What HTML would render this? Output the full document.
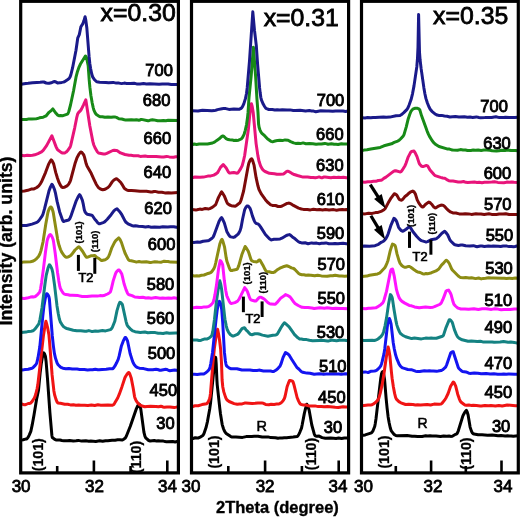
<!DOCTYPE html>
<html><head><meta charset="utf-8"><style>
html,body{margin:0;padding:0;background:#fff;overflow:hidden;}
svg{display:block;}
text{font-family:"Liberation Sans",Arial,sans-serif;}
</style></head><body>
<svg width="520" height="517" viewBox="0 0 520 517">
<defs><clipPath id="cp0"><rect x="20.7" y="1.3" width="157.7" height="471.6"/></clipPath><clipPath id="cp1"><rect x="191.5" y="1.3" width="157.1" height="471.6"/></clipPath><clipPath id="cp2"><rect x="361.5" y="1.3" width="156.8" height="471.6"/></clipPath></defs>
<g fill="none" stroke-width="3.0" stroke-linejoin="round" stroke-linecap="round">
<g clip-path="url(#cp0)">
<polyline points="21.0,440.0 23.2,439.7 25.5,439.1 26.5,439.0 27.2,438.5 28.2,437.1 29.2,435.1 30.8,431.3 31.2,429.6 32.2,424.9 34.0,415.0 36.8,398.1 38.5,390.2 40.2,372.2 41.2,364.1 42.2,358.1 43.6,352.9 43.9,353.0 44.4,353.6 45.4,356.2 46.1,361.5 47.6,380.1 49.9,412.6 51.9,435.5 52.3,437.5 54.1,438.9 55.4,439.7 56.4,440.1 59.9,440.0 61.9,440.5 63.9,440.8 67.3,440.7 69.6,440.4 73.3,440.9 76.1,440.7 78.3,440.4 81.6,441.1 85.8,440.8 88.8,441.3 90.8,441.1 95.8,441.4 99.6,440.8 102.6,441.3 105.6,440.7 107.8,440.7 112.1,440.2 115.1,440.2 117.6,439.8 119.8,439.7 122.1,440.0 122.8,439.8 123.8,439.2 125.3,438.0 126.3,436.3 130.3,426.3 136.1,409.4 137.8,405.6 138.6,404.6 139.3,404.1 140.2,406.2 140.9,409.9 143.9,432.1 144.9,436.2 145.7,437.9 148.7,440.5 150.2,441.0 154.2,440.5 156.4,440.9 158.2,440.7 160.2,441.0 162.7,440.9 165.2,441.6 166.4,441.8 172.7,441.5 175.2,442.0 178.0,441.3" stroke="#000000"/>
<polyline points="21.0,404.0 22.2,404.1 24.2,404.7 25.0,404.7 26.0,404.5 28.2,403.5 29.8,403.4 30.5,403.1 32.0,401.6 34.0,398.5 34.8,397.0 35.8,394.0 37.0,389.0 37.8,384.9 43.5,335.2 44.8,326.9 45.9,321.3 46.6,323.6 47.6,327.5 48.9,334.7 49.6,342.5 52.1,374.9 53.9,391.0 54.6,394.8 55.9,399.1 56.9,401.6 57.4,402.4 57.9,402.9 60.4,403.3 64.7,404.2 67.7,404.2 70.4,404.9 73.4,404.7 75.9,405.2 78.7,404.9 80.7,405.2 84.7,405.2 87.9,405.5 91.4,405.0 94.7,405.5 97.9,404.8 100.9,405.2 107.9,405.0 112.4,405.2 112.9,405.1 113.7,404.6 114.4,403.6 117.7,398.0 119.2,394.4 121.9,386.9 124.9,377.8 125.7,376.3 126.7,374.7 127.7,373.3 128.5,372.5 129.0,372.7 129.8,373.9 131.2,377.9 133.2,388.3 134.5,396.3 135.0,398.1 135.8,399.9 136.8,401.7 138.2,403.5 139.5,404.7 142.0,406.0 144.8,406.8 147.0,406.5 150.5,406.3 156.0,406.4 158.5,406.8 161.0,406.2 161.8,406.4 163.2,407.1 164.2,407.3 167.0,407.1 170.0,407.1 174.2,407.6 176.5,407.1 178.0,407.1" stroke="#f01414"/>
<polyline points="21.0,369.7 23.2,369.9 25.2,369.5 28.2,369.2 32.0,368.2 33.2,367.4 35.2,365.4 36.2,364.1 36.8,362.9 38.0,357.7 39.8,346.8 42.8,316.1 44.0,305.4 45.5,297.3 46.6,293.7 47.4,294.1 48.4,295.6 48.9,296.8 49.4,299.4 52.3,335.9 53.4,346.1 54.4,353.4 55.6,358.6 57.1,363.0 58.1,364.7 59.9,366.5 60.9,367.3 62.9,368.2 65.8,368.7 68.8,368.5 72.3,369.1 77.1,369.1 79.6,369.4 84.3,369.5 87.6,369.9 90.1,369.7 92.6,369.7 95.3,369.2 97.8,369.7 99.1,369.7 102.1,369.4 106.1,369.3 109.6,368.8 112.4,368.8 112.8,368.6 113.8,367.6 115.1,365.7 116.6,362.8 118.2,359.3 119.1,356.2 121.3,346.3 123.3,340.9 125.1,337.4 125.6,337.5 126.3,338.4 127.6,341.2 130.1,353.5 132.6,361.4 133.6,363.6 134.3,364.8 135.6,366.3 136.6,367.1 137.8,367.7 139.3,368.2 143.6,368.6 148.3,369.8 152.8,369.8 156.1,369.3 157.6,369.5 159.8,370.2 160.8,370.3 165.8,369.3 166.6,369.4 168.8,370.5 169.8,370.7 174.6,370.1 178.0,370.6" stroke="#1414f0"/>
<polyline points="21.0,332.5 26.0,332.1 28.5,331.4 31.2,331.2 33.0,330.8 34.0,330.1 35.2,328.8 38.8,323.8 39.2,322.4 40.0,319.3 42.0,307.7 45.0,283.8 46.2,275.4 48.0,268.1 48.8,265.9 49.3,264.8 49.8,265.0 50.3,265.6 51.3,267.6 52.0,269.3 52.8,272.6 54.5,284.6 57.0,305.9 58.3,313.7 59.3,318.8 60.3,321.9 61.8,324.3 63.5,326.6 65.3,327.9 66.8,328.5 73.3,330.2 76.8,330.8 80.8,330.7 85.0,331.2 86.3,331.2 88.8,330.6 91.5,331.4 92.5,331.5 95.3,331.1 98.0,331.2 102.5,330.6 105.5,330.9 110.5,329.6 111.5,328.7 112.3,327.5 114.8,321.3 117.0,310.6 118.8,304.6 119.8,302.3 120.0,302.3 120.8,302.6 121.5,303.4 122.1,304.1 122.5,305.1 126.0,321.3 126.8,324.1 127.3,325.4 128.3,326.8 130.3,328.9 131.6,330.1 132.8,330.9 135.1,331.7 137.1,332.1 140.3,332.4 144.8,332.0 147.8,332.7 151.1,332.4 155.3,332.6 158.3,333.3 160.3,333.3 163.1,333.5 166.6,332.8 169.3,333.3 175.6,332.9 178.0,333.0" stroke="#148282"/>
<polyline points="21.0,298.1 23.5,298.5 24.5,298.5 27.0,298.1 30.5,297.1 32.5,296.8 34.0,296.9 34.8,296.7 35.8,296.1 38.0,294.1 39.0,293.0 39.8,291.8 40.5,289.0 41.5,282.9 43.5,268.4 45.5,251.8 47.0,241.5 47.5,239.3 48.8,236.2 49.5,235.0 49.8,234.7 50.2,234.6 51.0,235.1 52.0,236.7 53.0,239.2 53.5,241.4 55.2,253.3 57.5,272.3 58.8,280.9 59.8,286.4 60.4,288.5 61.8,291.0 63.2,293.1 64.5,294.1 66.0,294.6 68.0,294.8 70.0,295.3 72.2,295.2 78.2,295.6 82.2,296.5 84.8,296.4 87.0,296.6 92.0,295.9 95.5,295.9 97.5,296.1 100.0,295.6 102.5,295.8 104.8,295.2 107.5,294.0 109.2,293.0 110.1,292.2 110.5,291.6 111.2,289.3 113.2,280.9 115.5,273.8 116.2,272.2 116.8,271.5 117.8,270.4 118.8,269.9 119.3,270.1 120.0,271.0 121.8,274.1 122.5,276.8 124.0,283.5 126.0,289.6 127.5,293.2 128.3,294.3 129.1,294.8 132.1,295.6 134.8,297.0 137.6,297.2 139.6,297.5 142.8,297.2 145.8,298.0 148.3,297.7 151.3,298.2 155.6,297.6 160.1,298.2 162.6,298.0 165.3,298.3 168.6,298.1 171.6,298.2 174.1,297.8 175.1,297.9 178.0,298.8" stroke="#ff14ff"/>
<polyline points="21.0,262.6 24.0,261.9 30.5,261.7 32.5,261.3 34.8,260.2 36.0,259.2 38.5,256.5 39.2,255.3 40.0,253.6 41.0,250.6 43.1,241.6 45.8,224.1 47.8,213.1 48.2,211.3 49.2,208.9 50.0,207.6 50.7,206.9 51.2,207.1 52.0,208.3 53.2,212.3 57.5,238.5 58.1,241.7 59.2,245.8 60.5,249.5 61.7,252.2 64.0,255.5 65.0,256.5 65.7,257.0 66.7,257.3 67.7,257.1 68.7,256.7 71.0,255.2 72.0,254.1 75.0,250.0 77.7,247.6 78.9,246.8 80.2,248.1 82.7,251.5 85.4,256.1 86.4,257.2 86.9,257.3 87.7,257.1 90.9,255.8 92.4,255.7 94.7,255.5 95.4,256.0 96.9,257.5 98.7,258.4 101.2,260.4 101.9,260.5 105.2,259.7 106.7,258.8 107.9,257.7 108.4,257.0 109.4,254.7 111.9,247.6 114.4,242.6 115.7,240.7 118.8,237.9 120.0,239.4 121.5,242.6 124.3,251.1 125.0,253.0 127.8,258.7 128.6,259.8 129.3,260.4 131.3,260.7 135.8,261.9 137.1,261.9 139.1,261.5 141.6,262.1 146.3,261.7 150.1,262.5 151.3,262.4 154.8,261.7 158.1,262.1 161.3,262.2 163.6,261.3 164.3,261.2 166.1,261.5 168.1,261.5 170.6,262.1 178.0,262.2" stroke="#8c8c14"/>
<polyline points="21.0,225.6 26.5,225.5 32.0,224.1 36.2,222.7 37.8,221.8 39.0,220.5 42.2,215.8 43.0,214.1 44.5,208.9 49.0,190.9 50.5,186.9 51.9,184.3 52.4,184.8 53.1,186.1 54.6,189.8 55.4,192.8 57.1,201.4 59.6,211.7 62.4,219.8 63.1,221.1 63.6,221.5 65.9,220.7 68.7,220.0 69.7,218.8 71.2,215.3 76.2,200.8 78.2,196.7 79.6,194.7 80.1,195.3 80.8,196.5 82.4,200.4 83.1,203.3 84.3,209.8 85.1,212.1 86.3,213.5 87.3,214.2 91.8,215.2 92.3,215.5 94.8,219.3 96.1,220.6 97.8,222.9 98.8,223.7 99.6,223.8 103.1,222.6 104.1,222.2 105.3,221.3 107.3,219.3 111.1,214.7 114.1,210.6 115.1,209.8 117.0,208.7 119.5,211.4 121.8,214.7 125.0,220.9 126.0,222.3 128.0,223.8 132.2,225.7 133.0,225.9 135.5,225.7 138.5,226.2 142.5,226.5 145.5,227.0 148.8,226.6 151.2,227.3 154.5,226.9 159.8,227.3 162.8,226.8 167.8,227.1 170.5,226.7 173.8,226.8 176.5,227.2 178.0,227.2" stroke="#1a1a8a"/>
<polyline points="21.0,191.2 24.5,190.9 27.8,190.3 31.2,189.1 34.0,188.9 36.8,187.5 38.8,185.8 40.5,183.6 41.5,181.8 45.5,172.6 48.5,164.4 50.0,161.6 51.2,159.9 51.7,160.3 52.2,160.9 53.7,164.0 55.7,172.4 57.5,178.3 59.0,182.4 60.7,185.7 61.7,187.0 62.2,187.4 62.7,187.5 64.2,187.3 67.0,185.9 68.0,185.0 69.0,183.6 70.0,181.8 70.5,180.5 75.2,162.9 77.0,157.7 79.0,154.1 80.5,152.1 81.0,152.0 81.5,152.1 82.2,152.8 83.8,155.0 84.5,157.1 86.2,163.8 87.0,166.0 91.2,173.3 93.8,179.1 96.2,184.2 98.2,187.3 99.8,188.6 101.0,189.3 102.8,189.8 104.0,189.6 105.5,189.0 108.0,187.5 109.5,186.0 112.0,182.1 113.0,180.8 114.5,179.6 116.5,178.7 119.0,180.7 120.8,182.5 122.0,184.3 124.0,187.8 124.8,188.7 126.5,189.8 128.0,190.4 129.5,190.6 131.5,190.5 135.0,190.7 140.0,191.3 146.5,191.3 150.8,192.0 152.0,192.0 154.0,191.5 155.0,191.4 158.5,192.2 161.8,192.3 164.8,192.9 168.2,192.7 171.2,193.1 178.0,192.5" stroke="#7c0a0a"/>
<polyline points="21.0,155.3 24.2,155.7 27.2,155.2 30.2,155.4 32.5,155.3 34.8,154.8 38.0,153.6 41.5,151.9 43.2,150.3 46.6,145.6 51.9,135.7 56.1,146.9 56.9,148.6 57.6,149.8 61.1,152.4 62.1,152.9 63.1,153.0 64.4,153.0 65.4,152.6 66.2,152.1 67.7,150.5 69.4,148.2 70.2,146.9 70.7,145.4 74.7,127.8 76.7,117.7 77.7,113.9 78.7,112.4 80.5,110.6 81.2,109.6 83.4,105.1 85.8,99.8 89.8,125.8 92.8,141.4 93.8,145.0 95.3,148.3 97.3,151.8 98.5,153.0 103.5,154.0 105.3,153.9 106.8,153.4 112.8,150.5 114.3,150.2 116.3,150.4 117.3,150.7 120.5,152.9 125.0,154.5 129.1,155.2 131.1,155.3 133.6,155.7 138.1,155.8 140.3,156.4 145.1,156.0 147.6,156.4 150.8,156.4 153.1,156.6 156.1,156.5 161.8,157.0 163.6,156.9 166.6,156.4 169.3,156.9 172.8,157.3 173.6,157.2 175.8,156.7 178.0,156.8" stroke="#e8147a"/>
<polyline points="21.0,119.6 24.0,119.4 26.5,119.5 29.0,118.9 31.8,119.1 36.2,118.8 37.2,118.6 39.5,117.8 43.2,117.2 45.5,116.2 46.2,115.7 49.0,112.3 51.5,110.3 52.8,108.9 56.0,113.3 57.5,114.9 58.5,115.6 59.0,115.7 60.3,115.6 63.0,115.7 67.5,114.2 68.0,113.5 68.8,111.5 70.5,105.0 73.5,91.0 76.0,77.2 77.5,71.4 78.8,67.7 80.3,64.3 85.4,56.0 85.9,56.4 86.7,58.4 88.2,65.8 89.2,79.9 89.9,87.4 90.9,95.5 92.2,103.0 93.2,107.6 93.9,110.1 95.4,113.3 96.4,114.5 99.4,116.4 100.4,116.8 102.4,116.7 104.9,117.3 107.9,116.9 111.2,117.3 113.4,116.9 114.7,116.9 116.4,117.4 118.9,118.8 121.7,119.0 124.4,119.8 125.7,120.1 131.4,119.7 134.2,120.1 136.4,119.7 138.9,120.3 139.7,120.1 140.7,119.5 141.4,119.4 147.9,120.8 148.9,120.7 151.2,119.9 152.4,119.7 153.7,119.9 157.7,120.8 160.7,120.7 163.4,120.5 165.9,120.7 168.2,120.3 178.0,120.6" stroke="#178a17"/>
<polyline points="21.0,84.2 25.8,83.4 28.2,83.3 32.5,82.7 36.8,82.4 40.2,82.3 42.8,81.9 43.8,82.0 46.2,83.0 48.2,83.3 49.2,83.3 51.2,82.8 53.8,81.7 54.5,81.5 55.2,81.7 57.5,82.9 61.8,82.4 63.2,82.1 64.5,81.7 67.8,79.5 69.3,78.3 70.0,77.1 70.8,75.0 72.5,68.2 76.0,50.3 77.8,37.8 79.3,34.6 80.9,26.8 82.9,23.6 84.0,20.6 85.1,16.7 85.8,20.1 86.8,27.7 89.1,56.7 89.8,63.5 90.6,68.6 91.8,74.2 92.8,77.2 94.6,79.8 96.1,81.3 96.8,81.7 99.6,82.2 105.8,82.4 108.6,82.7 113.1,82.4 116.3,83.1 119.1,83.1 121.6,83.6 124.3,83.1 126.6,83.4 130.3,83.5 134.1,83.3 136.6,83.9 140.1,84.0 143.6,83.6 146.3,83.9 149.8,83.8 159.1,84.2 162.3,83.9 165.6,84.0 168.1,83.9 171.3,84.4 178.0,84.6" stroke="#1a1a8a"/>
</g>
<g clip-path="url(#cp1)">
<polyline points="192.0,438.6 193.0,438.5 195.2,437.8 197.5,438.0 198.5,437.9 200.8,436.8 202.5,435.7 203.2,434.9 204.0,433.5 206.2,427.0 207.5,421.3 209.8,408.4 210.5,403.3 214.0,368.0 215.5,357.3 215.8,358.2 216.2,363.9 216.9,379.9 217.2,384.6 219.8,408.3 220.5,413.9 222.2,424.6 223.5,428.8 224.2,430.5 225.2,432.3 226.2,433.4 230.8,436.6 232.0,437.0 236.0,436.9 242.5,437.4 246.2,436.6 251.8,436.5 254.2,436.3 258.0,436.2 262.2,436.9 268.0,436.9 270.8,437.6 275.5,437.7 278.0,438.3 280.0,437.9 282.2,437.9 284.2,437.7 286.8,437.8 288.8,437.4 293.2,437.1 297.0,436.6 297.8,436.0 298.8,434.5 300.0,431.8 301.5,428.1 302.2,424.8 304.3,413.6 305.5,408.7 306.8,404.3 307.8,406.2 309.1,410.0 311.8,425.0 314.1,433.4 314.6,434.8 315.1,435.6 315.8,436.0 316.6,436.2 319.1,436.1 322.1,437.6 325.3,438.2 330.6,438.0 333.6,438.2 336.1,438.5 338.6,438.1 341.6,438.5 344.3,438.1 348.0,438.1" stroke="#000000"/>
<polyline points="192.0,406.7 195.0,405.8 198.2,405.7 202.0,404.6 206.5,403.8 207.2,403.3 208.0,402.3 208.8,400.8 209.5,398.7 210.0,397.0 210.5,393.2 213.0,362.1 214.5,347.2 216.2,335.6 217.6,329.2 218.6,334.3 219.6,340.6 220.6,349.0 221.5,362.9 222.1,380.0 222.8,387.0 223.8,391.9 225.6,397.4 226.3,398.9 227.1,400.0 229.1,401.5 234.1,403.6 237.3,404.3 239.6,403.9 242.1,403.9 244.6,403.1 245.8,403.0 252.1,403.4 255.1,403.3 257.9,402.9 261.9,402.9 262.9,403.1 265.6,404.4 268.9,404.8 271.1,404.3 274.1,404.5 276.6,404.1 278.4,404.0 279.4,403.8 280.6,403.1 281.9,402.1 283.1,400.6 284.4,398.5 285.1,396.2 287.1,386.7 288.4,383.2 289.5,380.6 290.2,380.6 291.2,380.7 292.5,381.1 293.0,381.8 293.8,384.2 297.1,397.5 298.5,400.9 299.5,402.9 300.2,403.9 301.2,404.5 302.8,404.9 305.8,405.0 308.8,405.9 312.8,406.1 315.0,405.9 318.2,406.6 321.2,406.4 324.2,406.8 327.5,406.6 332.8,406.9 335.2,407.3 338.2,407.6 343.0,406.8 346.0,407.1 348.0,407.0" stroke="#f01414"/>
<polyline points="192.0,374.2 194.5,374.2 197.2,374.5 200.8,374.0 202.8,374.1 203.8,374.0 205.0,373.3 207.5,371.3 208.8,369.9 209.5,368.7 210.0,367.2 210.8,363.6 212.5,352.5 216.0,319.8 217.2,309.9 218.2,304.6 218.8,302.8 219.4,301.3 219.9,301.8 220.7,303.9 221.2,306.2 221.7,309.5 222.7,322.2 224.4,352.2 225.4,361.0 225.9,363.8 226.4,365.6 227.4,366.6 229.4,368.1 230.2,368.5 231.2,368.8 234.7,368.7 236.9,368.8 241.9,370.0 246.2,369.9 247.9,370.1 249.9,370.1 253.2,370.6 256.9,370.5 258.9,370.1 263.4,370.9 266.1,371.1 270.6,371.0 272.8,371.6 273.4,371.6 274.9,370.8 276.6,369.7 278.1,368.3 279.9,366.3 280.9,364.2 283.1,357.4 285.5,352.5 288.0,354.1 289.2,355.2 291.8,359.5 296.8,367.3 298.8,369.0 301.2,371.5 302.8,372.3 306.8,373.1 310.0,373.3 314.2,374.2 319.2,373.8 322.0,374.1 323.5,374.2 326.0,374.0 328.2,374.1 333.8,373.7 336.5,374.1 339.0,374.0 341.2,374.3 343.5,374.1 345.8,373.7 348.0,374.0" stroke="#1414f0"/>
<polyline points="192.0,340.0 197.0,340.0 199.0,340.5 199.8,340.6 201.2,340.2 204.2,339.1 206.8,339.1 207.8,338.7 209.8,337.4 210.8,336.6 211.8,335.5 212.2,333.9 212.8,331.4 214.5,319.2 216.2,303.3 217.8,291.8 218.8,285.8 219.8,280.8 220.6,283.6 221.6,289.2 224.6,316.4 225.0,319.5 226.3,326.1 227.3,329.8 228.6,332.3 230.3,334.5 231.3,335.3 232.4,335.9 233.1,336.0 233.8,335.9 236.8,334.7 237.8,334.1 238.8,333.1 241.8,328.9 243.1,328.1 244.3,327.8 244.7,327.9 245.9,329.8 247.7,331.4 249.7,333.7 250.4,334.3 251.2,334.6 251.9,334.7 254.9,333.8 257.7,333.8 260.2,334.3 262.4,335.1 267.9,336.2 272.9,335.2 275.9,334.9 276.9,334.4 277.7,333.5 280.9,327.7 282.9,324.6 284.4,322.8 285.6,323.7 289.1,326.8 293.9,333.7 295.1,335.2 297.9,337.8 299.6,338.9 301.4,339.0 303.4,339.5 306.6,339.6 309.4,340.3 312.6,340.7 319.6,340.4 321.6,340.6 323.9,340.6 327.4,341.0 328.9,340.9 331.4,340.3 332.4,340.2 336.6,340.7 339.6,340.3 344.6,340.3 348.0,340.8" stroke="#148282"/>
<polyline points="192.0,307.9 196.5,307.2 201.5,307.5 204.2,306.9 206.5,307.0 207.5,306.8 209.0,306.3 210.2,305.5 211.5,304.4 213.0,302.6 214.0,299.5 215.0,294.4 216.5,285.1 218.5,269.1 220.2,260.6 220.7,260.8 221.4,261.8 222.4,264.0 222.7,265.0 224.3,280.3 225.7,290.3 226.7,295.4 227.1,296.6 229.2,301.2 230.2,302.8 230.9,303.4 231.9,303.4 234.9,302.6 237.2,301.4 237.9,300.7 238.9,299.4 239.9,297.6 244.7,287.6 245.9,289.1 247.4,291.5 249.7,297.9 250.4,299.3 250.9,299.8 252.2,300.3 254.7,301.0 255.5,301.1 256.2,300.8 258.9,297.7 259.7,297.2 260.7,297.2 261.7,297.6 264.2,299.0 267.7,302.5 269.4,303.6 270.9,304.1 274.7,304.3 275.7,303.8 276.9,302.7 280.9,297.9 284.2,295.8 285.5,294.6 288.5,295.9 290.2,297.1 291.2,298.4 293.8,302.1 295.0,303.4 298.2,305.5 302.0,307.3 305.0,307.5 308.0,307.5 311.8,308.0 314.2,308.5 319.8,307.8 324.5,308.2 327.2,307.8 332.5,308.5 335.8,308.3 340.2,308.6 343.0,308.4 348.0,308.7" stroke="#ff14ff"/>
<polyline points="192.0,275.6 194.5,276.0 196.8,275.8 199.0,276.0 201.5,275.3 204.0,275.0 207.0,273.8 209.8,273.0 211.0,272.4 212.0,271.4 213.9,268.6 214.8,266.5 215.8,262.5 219.8,244.1 221.0,240.8 221.5,239.9 222.0,239.4 222.5,240.3 223.2,242.3 224.5,246.8 226.2,257.9 227.0,261.6 229.5,268.4 230.2,269.8 231.0,270.5 232.0,270.5 234.0,269.9 236.2,269.6 237.0,269.4 237.5,268.8 238.8,265.6 241.8,254.8 245.1,246.5 246.6,248.4 248.1,250.9 248.8,252.7 250.8,259.0 251.6,260.6 252.0,260.9 253.3,261.4 256.7,261.9 257.4,261.6 258.9,260.2 259.4,260.0 259.9,260.2 260.6,261.2 262.9,265.2 265.1,269.7 266.1,271.1 266.9,271.5 269.1,271.8 271.6,272.5 273.6,272.4 274.6,272.0 276.9,270.1 279.9,268.2 283.1,266.8 286.7,265.8 288.9,266.5 291.4,267.9 293.7,268.5 294.9,269.5 298.7,273.5 299.9,274.2 301.9,274.7 303.9,274.8 305.9,275.2 308.2,275.1 310.9,275.2 314.7,275.8 317.7,275.2 321.4,275.9 327.2,276.2 330.4,275.7 332.7,275.8 335.2,275.2 339.4,276.0 341.9,275.9 344.7,276.2 348.0,275.9" stroke="#8c8c14"/>
<polyline points="192.0,242.3 193.8,242.4 197.5,242.0 199.8,242.3 203.2,241.2 207.8,240.8 209.2,240.3 212.0,238.2 213.0,237.2 214.0,235.3 219.0,221.4 220.5,218.8 221.6,217.6 222.8,219.6 224.3,222.9 226.8,231.4 228.8,235.0 229.8,236.2 230.8,236.9 233.3,237.4 234.6,237.0 238.1,234.2 239.1,232.7 240.1,230.6 241.1,227.3 242.6,219.0 244.6,210.0 245.1,208.7 246.1,207.0 246.8,206.2 247.4,205.9 247.9,206.0 248.7,206.5 250.2,208.7 250.9,210.7 252.4,215.9 254.2,220.6 255.2,222.5 256.1,223.3 258.4,224.2 259.1,224.9 260.4,226.6 265.4,234.5 269.4,238.8 270.9,239.8 271.6,239.9 273.9,239.3 276.4,239.3 280.1,238.9 281.9,238.2 286.4,235.5 288.1,234.9 289.4,234.6 290.4,235.1 292.4,236.9 295.1,238.8 298.1,241.5 299.4,242.2 301.6,242.9 305.1,242.8 308.1,243.7 311.6,242.9 313.6,243.2 316.6,243.1 319.4,243.7 321.6,243.3 323.6,243.2 325.9,242.9 328.9,243.7 331.1,243.8 332.6,243.8 334.9,243.4 337.9,243.8 340.1,243.4 343.1,243.2 348.0,243.9" stroke="#1a1a8a"/>
<polyline points="192.0,209.6 196.0,209.9 197.0,209.8 199.8,209.1 202.2,209.4 205.2,208.5 208.8,208.9 209.8,208.6 211.2,207.9 213.5,206.4 215.5,204.8 216.2,203.3 218.5,197.4 220.5,193.6 221.6,191.8 222.8,193.4 224.3,195.9 226.6,201.6 227.3,203.1 227.8,203.7 229.6,205.0 231.3,205.7 235.3,206.2 236.3,205.7 238.3,204.0 239.6,203.1 240.3,202.0 241.3,199.4 243.6,191.0 247.8,167.9 248.8,163.3 249.3,162.0 250.3,160.0 251.1,159.0 251.6,158.7 252.1,159.4 252.6,160.4 254.1,165.4 256.1,177.7 257.9,185.8 259.0,189.5 261.1,193.7 265.4,199.7 267.4,202.0 269.9,204.2 270.9,204.9 272.4,205.4 275.6,205.5 278.1,206.5 280.4,206.6 282.1,206.0 287.1,203.4 288.6,203.1 289.4,203.2 290.9,203.8 293.4,205.4 298.6,208.1 301.4,209.0 303.4,209.4 307.4,209.4 310.4,209.9 313.4,209.3 316.9,209.8 319.6,209.5 322.6,209.9 325.4,209.6 329.1,210.1 333.6,209.6 336.6,210.2 339.1,209.8 342.4,209.5 344.4,209.7 346.4,209.6 348.0,209.8" stroke="#7c0a0a"/>
<polyline points="192.0,177.8 195.0,177.0 200.0,177.3 203.5,177.1 207.8,176.1 210.8,175.9 213.8,175.1 215.5,174.2 217.4,172.8 218.2,171.6 220.5,167.4 223.2,164.6 226.2,168.1 228.4,171.9 229.4,173.0 229.9,173.1 231.7,172.7 233.9,172.5 237.2,173.2 237.7,173.0 238.4,172.3 240.7,168.6 242.2,165.6 243.4,161.2 244.7,155.3 248.4,129.0 249.9,113.3 251.4,103.7 252.2,106.4 253.2,112.5 256.1,143.6 257.9,155.9 259.1,161.6 260.6,166.0 262.1,168.8 262.9,169.8 263.9,170.7 265.1,171.5 269.4,173.3 274.4,173.8 276.9,174.3 280.1,174.3 283.4,174.0 284.1,173.6 286.4,171.6 287.1,171.3 287.8,171.2 288.9,171.6 292.1,173.6 293.4,174.2 297.4,175.5 303.1,177.1 307.6,177.1 310.9,177.6 313.1,177.5 315.4,177.8 316.6,177.6 319.1,176.9 321.6,177.8 322.4,177.7 324.1,177.0 324.9,176.9 330.9,177.8 333.9,177.3 336.4,177.5 338.6,177.3 340.9,177.4 343.4,177.2 348.0,177.9" stroke="#e8147a"/>
<polyline points="192.0,144.7 194.2,144.0 196.5,144.4 199.2,144.0 205.0,143.9 207.5,144.0 212.5,143.0 214.5,142.1 216.8,140.4 219.2,138.8 221.8,136.4 222.8,136.0 223.2,136.0 224.0,136.5 226.2,138.7 227.2,139.2 229.5,139.8 232.2,139.9 234.0,140.5 236.0,140.3 237.5,140.4 238.5,140.2 241.2,139.0 242.5,137.5 244.1,134.3 245.2,130.6 246.5,124.7 247.5,117.8 248.0,112.9 249.0,97.5 251.2,75.5 253.4,47.2 255.6,76.2 256.9,98.4 258.0,112.7 258.6,124.3 259.1,127.2 259.9,129.8 261.0,132.1 261.9,133.3 264.6,135.7 267.4,138.8 270.9,141.3 272.1,141.7 273.1,141.7 275.1,141.0 277.4,140.6 279.9,140.3 282.4,140.6 285.1,139.9 288.1,140.2 290.6,141.6 293.6,142.9 295.6,143.4 297.9,143.2 300.4,143.6 303.1,142.9 305.9,143.7 309.4,143.6 312.9,143.8 316.1,144.2 318.6,144.0 321.4,144.0 324.9,143.4 325.9,143.6 328.1,144.3 331.4,143.8 334.1,144.3 336.1,144.3 338.1,144.5 341.4,143.8 343.6,144.1 348.0,143.9" stroke="#178a17"/>
<polyline points="192.0,110.8 198.0,111.0 202.5,110.3 211.8,110.7 214.5,110.6 215.5,110.4 217.5,109.6 222.0,108.7 223.5,108.6 225.8,108.6 229.0,109.4 233.8,109.0 238.8,109.3 239.5,109.2 240.5,108.7 241.8,107.7 242.5,106.7 243.8,103.9 245.5,98.4 246.5,93.5 247.2,88.0 249.5,60.8 252.8,11.8 254.5,30.4 256.3,45.6 257.6,64.3 259.6,88.0 260.1,92.3 260.8,97.3 261.5,100.2 263.3,104.3 264.6,106.5 265.6,108.0 266.6,108.7 268.8,109.5 269.8,109.6 272.3,109.5 274.8,110.0 277.1,109.8 279.8,110.1 282.3,109.8 287.1,110.1 290.1,109.9 293.3,110.5 295.1,110.6 300.1,110.2 305.6,110.9 309.3,110.6 311.6,111.0 313.6,111.1 315.8,111.7 320.8,110.8 326.3,111.1 328.8,110.9 332.8,111.2 335.6,111.0 338.1,111.1 343.1,111.0 345.6,111.4 348.0,111.0" stroke="#1a1a8a"/>
</g>
<g clip-path="url(#cp2)">
<polyline points="362.0,435.3 363.5,435.2 365.2,434.9 371.5,432.8 372.2,432.0 373.0,430.8 374.7,426.5 375.2,424.0 376.0,418.7 380.8,377.9 381.5,373.9 382.2,372.1 382.8,371.5 383.1,371.9 383.6,373.7 384.6,379.8 386.1,398.1 387.1,408.1 388.1,416.7 389.1,422.5 390.3,428.0 391.3,430.9 393.6,433.9 394.6,434.8 395.8,435.5 397.3,435.8 407.1,435.5 412.1,436.3 414.6,436.3 417.8,436.6 422.1,436.4 425.6,435.8 427.8,436.1 430.1,435.8 432.1,436.0 436.1,436.0 440.6,436.4 443.6,435.9 446.8,436.3 449.1,436.1 451.3,436.4 452.3,436.2 455.6,434.3 456.8,433.8 457.3,433.2 458.3,430.8 462.8,416.1 463.6,414.4 464.8,412.3 465.6,411.2 466.4,410.4 467.1,411.7 468.1,415.0 470.1,427.1 471.6,431.6 472.4,433.0 472.9,433.5 474.1,434.0 478.1,434.8 482.1,434.8 487.6,435.2 492.1,435.1 498.1,435.8 501.1,435.4 505.1,435.9 507.6,435.8 509.4,436.0 511.1,435.9 513.4,436.2 518.0,435.8" stroke="#000000"/>
<polyline points="362.0,405.8 368.0,405.1 370.5,405.1 372.0,404.7 374.0,403.6 376.0,402.0 377.8,400.1 378.8,398.3 380.2,393.4 382.2,384.4 384.0,373.5 386.2,357.7 388.1,347.0 388.9,349.9 389.9,356.0 391.4,371.8 392.1,378.2 393.4,387.0 394.6,393.4 395.6,397.3 396.4,399.1 398.9,401.6 400.9,402.8 405.6,404.5 408.6,404.2 412.9,404.5 415.4,404.9 417.6,404.7 420.6,404.9 427.1,404.4 430.6,405.0 434.1,404.1 439.1,404.2 440.9,404.1 441.6,403.6 442.6,402.6 445.1,399.3 446.1,397.7 448.1,393.5 450.6,386.3 453.2,382.1 453.7,382.4 454.2,382.9 455.7,386.1 457.7,394.2 459.2,398.6 460.2,401.0 461.2,402.3 464.2,404.5 465.2,405.1 466.2,405.3 468.9,405.0 470.9,405.4 473.2,405.3 476.4,405.5 480.2,406.0 481.4,406.0 484.9,405.4 488.4,405.7 490.9,405.6 495.4,406.0 498.9,405.4 502.2,405.9 507.2,405.0 515.5,405.8 518.0,405.7" stroke="#f01414"/>
<polyline points="362.0,372.2 365.2,371.9 367.5,372.4 368.2,372.5 371.2,371.2 374.2,371.0 375.8,370.7 376.8,370.2 378.5,368.6 379.8,367.2 380.8,365.8 381.5,363.9 382.2,361.4 384.0,353.7 384.8,348.5 387.5,325.0 388.5,320.4 389.3,318.5 390.1,320.2 391.1,324.2 393.2,342.5 394.3,349.0 395.6,354.8 396.6,358.1 399.1,364.1 400.6,366.3 401.6,367.3 402.6,367.9 405.1,368.6 407.8,369.5 411.3,369.7 416.1,371.4 417.1,371.6 419.7,371.6 424.3,370.8 427.1,371.1 429.3,370.8 431.3,371.1 433.3,370.9 436.8,371.2 438.1,371.1 441.1,370.6 442.6,369.8 445.6,367.2 446.6,365.0 450.6,353.2 450.9,352.6 451.6,352.1 452.8,351.7 453.2,351.8 458.2,367.3 458.7,368.2 460.7,370.2 461.7,371.0 462.4,371.4 465.9,371.9 468.9,373.2 469.9,373.4 474.2,372.9 477.9,373.3 481.2,373.8 486.2,373.5 490.2,374.0 493.9,373.7 497.7,374.2 501.4,374.2 503.7,373.9 506.2,374.3 508.7,374.0 515.0,374.3 518.0,374.2" stroke="#1414f0"/>
<polyline points="362.0,340.2 364.2,340.6 372.2,340.2 374.2,340.5 375.2,340.3 376.8,339.7 378.0,339.0 381.0,336.5 382.2,334.9 383.0,333.5 383.5,332.2 385.0,326.1 386.5,318.1 388.5,304.4 390.4,294.6 390.9,295.0 391.4,295.8 392.0,297.1 392.4,298.6 394.1,310.0 396.1,321.7 396.9,325.1 397.9,328.1 399.4,331.7 400.6,333.6 402.6,335.2 405.6,336.8 410.9,338.4 411.9,338.4 414.4,338.1 421.4,338.9 425.6,338.1 428.9,338.3 431.3,338.1 433.1,338.2 436.4,338.2 442.4,336.3 443.1,335.8 443.6,334.9 446.1,327.3 449.3,319.7 449.6,319.7 450.1,319.8 450.8,320.4 452.1,322.1 452.8,324.1 454.3,329.4 456.3,334.4 457.3,336.4 458.1,337.4 459.3,338.4 462.1,339.8 468.1,341.3 471.3,340.9 477.3,341.6 480.3,341.2 482.8,341.9 486.1,342.0 488.3,341.9 490.3,342.1 492.1,342.0 494.1,342.2 500.1,342.1 503.6,341.5 508.1,342.3 510.8,342.1 514.3,342.5 516.3,342.9 518.0,342.7" stroke="#148282"/>
<polyline points="362.0,308.4 365.8,308.7 368.5,308.2 370.5,308.2 373.2,307.9 375.8,307.8 377.0,307.2 380.8,304.7 382.8,302.8 383.5,301.6 384.2,299.5 386.5,291.4 390.5,271.2 391.2,269.7 391.8,269.2 392.2,269.1 392.5,269.1 392.8,269.9 394.3,276.4 396.5,289.7 398.0,294.8 399.2,297.9 400.5,299.9 402.0,301.4 404.8,303.1 409.2,305.4 411.5,305.8 414.5,306.9 419.2,307.7 425.5,306.9 430.2,307.4 433.0,307.2 434.5,306.7 439.5,304.5 440.8,303.6 441.5,302.4 442.8,299.7 444.2,296.1 446.0,291.2 446.2,290.9 447.0,290.4 448.6,290.1 450.1,292.5 451.1,294.6 453.1,302.1 453.9,304.3 455.4,306.0 457.1,307.5 458.1,308.1 460.9,309.0 461.9,309.1 464.9,308.9 468.6,309.3 473.9,308.7 478.4,309.4 482.1,308.8 486.1,308.7 488.4,309.1 491.4,309.4 494.9,308.7 497.1,308.9 499.9,309.6 501.1,309.7 503.9,309.4 507.4,309.4 510.1,309.6 514.4,309.0 518.0,308.9" stroke="#ff14ff"/>
<polyline points="362.0,276.4 366.8,276.1 369.5,275.3 377.5,273.9 379.5,273.1 381.2,271.6 384.8,267.7 386.0,265.5 387.2,262.6 388.0,260.4 390.2,250.9 391.5,246.8 392.5,244.1 393.8,244.6 395.0,245.4 395.5,246.8 397.0,253.9 399.0,260.7 400.1,263.3 401.8,265.5 403.2,266.6 405.0,267.3 406.2,267.2 408.5,266.4 409.5,266.5 410.8,267.2 413.8,269.5 417.0,271.7 417.8,272.0 420.2,272.5 423.0,273.9 424.0,274.1 426.0,273.5 427.8,273.7 428.5,273.6 431.5,272.7 436.0,270.9 438.8,269.0 441.5,265.1 443.0,263.7 445.2,261.1 446.3,260.2 447.8,261.4 449.3,263.5 451.6,268.8 452.6,270.3 458.3,276.0 459.8,277.1 460.8,277.5 463.3,277.8 465.8,277.6 469.1,278.0 471.6,277.8 475.6,278.6 478.6,278.0 481.3,278.9 483.3,278.4 485.6,278.2 488.6,277.7 491.1,278.1 493.6,277.9 502.1,278.3 504.3,278.2 506.3,278.4 509.3,278.2 512.3,278.4 515.3,278.0 518.0,278.2" stroke="#8c8c14"/>
<polyline points="362.0,246.2 364.5,245.9 369.5,246.3 375.0,245.7 378.5,244.3 381.2,242.3 383.0,241.5 384.0,240.8 385.8,238.7 387.4,235.8 388.2,233.7 390.8,225.7 393.9,218.4 394.9,218.9 396.1,220.5 396.9,222.2 398.6,227.3 400.1,229.4 401.4,230.7 402.4,231.2 403.4,231.0 406.1,229.2 408.4,227.4 409.1,227.1 409.6,227.0 410.6,227.9 412.8,231.5 416.6,236.3 419.4,239.2 420.4,240.0 421.4,240.6 425.6,241.9 426.6,241.9 427.6,241.6 430.9,239.8 435.1,239.1 436.4,238.6 438.9,236.6 441.9,233.3 444.7,231.2 445.9,232.5 447.7,234.9 449.9,239.8 450.7,241.0 454.2,244.4 454.9,244.8 455.9,245.1 458.4,245.5 460.9,245.1 462.4,245.0 465.7,245.8 469.9,245.9 473.4,245.7 474.4,245.9 476.2,246.6 476.9,246.7 480.4,246.0 481.9,246.1 484.4,246.5 488.4,246.0 491.2,246.3 493.2,246.1 498.2,246.2 500.7,246.4 503.2,246.0 506.9,246.1 509.2,246.6 511.2,246.5 513.7,246.7 515.0,246.5 518.0,245.7" stroke="#1a1a8a"/>
<polyline points="362.0,213.8 365.2,213.9 368.5,213.2 372.2,213.4 375.5,212.6 378.0,212.4 381.8,211.1 384.0,209.7 385.2,208.5 388.1,203.1 391.2,197.8 394.2,193.8 395.2,194.0 396.7,195.0 397.4,196.1 398.9,198.9 399.4,199.5 400.7,200.1 401.7,200.2 402.7,199.4 404.7,196.8 406.7,195.3 409.2,192.9 410.2,192.2 412.7,191.1 413.2,191.2 413.9,191.7 415.3,193.8 417.2,199.9 418.9,203.1 420.9,205.8 421.7,206.5 422.4,207.0 422.9,207.0 423.4,206.7 425.4,204.5 427.9,202.6 428.9,202.1 429.7,202.4 430.4,203.0 432.2,204.8 433.9,207.1 435.0,207.9 435.9,207.8 437.9,206.4 440.4,205.3 441.4,205.1 442.4,205.2 443.7,205.7 444.2,206.0 446.5,208.6 449.2,211.1 450.4,211.9 452.9,212.9 455.9,213.0 459.2,213.9 461.2,213.9 462.9,214.1 465.2,213.8 468.7,213.9 471.4,214.4 475.9,213.8 478.2,214.0 480.9,214.0 484.2,214.4 488.9,213.8 491.7,214.4 492.9,214.5 496.4,214.4 499.2,214.0 503.2,214.1 505.7,213.7 509.2,214.5 513.5,214.6 516.2,214.4 518.0,214.6" stroke="#7c0a0a"/>
<polyline points="362.0,181.9 365.0,182.3 367.8,181.8 371.0,181.7 373.5,181.2 375.8,181.3 378.2,180.5 381.0,180.3 382.0,179.9 383.8,178.4 386.0,177.1 392.8,171.9 394.0,171.1 395.0,170.8 395.8,170.8 399.8,171.9 400.5,171.9 401.0,171.7 402.2,170.3 405.0,165.7 406.0,163.3 408.0,157.4 410.5,152.6 411.5,151.5 414.0,151.0 415.2,152.8 417.0,156.6 419.2,163.4 419.7,164.2 421.5,166.1 422.2,166.5 423.0,166.6 425.8,165.6 426.8,165.6 427.2,165.7 428.0,166.4 430.0,169.9 434.2,174.8 435.2,175.6 440.5,177.4 442.8,178.0 444.8,178.3 447.8,180.2 448.8,180.7 450.8,181.0 453.0,181.1 458.2,181.9 461.0,181.9 463.5,181.5 465.8,182.3 467.8,182.5 474.5,182.1 477.0,182.5 479.2,182.2 482.0,182.7 484.5,182.3 487.8,182.3 491.8,182.1 494.5,181.7 497.8,182.4 504.0,182.7 505.0,182.6 507.2,182.0 509.2,182.2 511.8,182.0 514.0,182.3 518.0,182.4" stroke="#e8147a"/>
<polyline points="362.0,150.6 364.0,150.1 367.0,149.8 370.8,149.0 380.2,147.4 384.0,145.8 391.5,143.8 394.2,142.4 397.8,141.1 399.2,140.2 400.5,139.0 403.3,135.9 404.0,134.6 406.2,127.1 408.2,118.9 409.8,114.2 410.8,111.7 412.0,110.0 413.2,108.9 415.2,108.3 417.0,108.2 418.2,108.6 419.2,109.3 419.8,109.9 421.5,115.6 427.2,131.3 428.5,134.4 429.5,136.4 432.2,140.8 434.2,143.2 435.8,144.5 439.0,146.5 447.0,148.9 449.5,149.1 451.8,149.9 453.0,150.1 457.5,150.3 460.5,149.6 463.0,150.0 465.5,150.0 467.5,150.5 468.5,150.5 470.8,150.5 473.2,150.1 475.5,150.2 478.2,150.0 481.2,150.4 483.8,150.1 486.8,149.9 489.8,150.3 492.2,150.8 496.5,151.0 499.0,150.8 501.8,150.2 505.0,150.4 507.8,150.1 511.2,150.5 515.0,150.6 518.0,150.8" stroke="#178a17"/>
<polyline points="362.0,117.7 365.0,117.9 367.5,117.5 370.8,117.8 373.0,117.5 375.2,117.6 383.5,117.0 386.2,117.3 389.8,117.1 396.0,115.7 400.0,115.5 401.2,114.8 403.8,112.6 406.8,109.6 407.8,108.1 409.0,105.3 411.0,99.8 412.5,93.8 414.0,85.9 416.8,66.9 417.5,58.0 418.0,47.0 418.6,14.6 419.5,52.1 420.1,60.0 421.1,68.4 423.9,87.9 424.9,93.7 425.9,98.4 427.4,103.0 428.9,106.8 430.2,109.2 431.9,111.3 435.6,114.3 437.1,115.1 439.1,115.4 441.6,115.4 444.4,116.0 447.1,116.3 449.9,117.0 455.4,116.4 458.9,117.0 464.4,116.8 467.4,117.2 470.1,117.0 472.6,117.4 476.4,116.9 478.9,117.5 480.6,117.7 484.9,117.6 487.4,117.4 491.6,117.5 495.9,116.8 499.4,117.6 501.4,117.4 503.4,117.4 505.6,117.2 509.1,117.5 514.9,117.5 518.0,117.2" stroke="#1a1a8a"/>
</g>
</g>
<g fill="none" stroke="#000" stroke-width="3.2">
<rect x="20.7" y="1.3" width="157.7" height="471.6"/>
<rect x="191.5" y="1.3" width="157.1" height="471.6"/>
<rect x="361.5" y="1.3" width="156.8" height="471.6"/>
</g>
<g stroke="#000" stroke-width="2.6">
<line x1="57.2" y1="466" x2="57.2" y2="472"/>
<line x1="93.9" y1="460.5" x2="93.9" y2="472"/>
<line x1="130.6" y1="466" x2="130.6" y2="472"/>
<line x1="167.3" y1="460.5" x2="167.3" y2="472"/>
<line x1="228.3" y1="466" x2="228.3" y2="472"/>
<line x1="265.1" y1="460.5" x2="265.1" y2="472"/>
<line x1="301.9" y1="466" x2="301.9" y2="472"/>
<line x1="338.7" y1="460.5" x2="338.7" y2="472"/>
<line x1="395.8" y1="466" x2="395.8" y2="472"/>
<line x1="431.1" y1="460.5" x2="431.1" y2="472"/>
<line x1="465.8" y1="466" x2="465.8" y2="472"/>
<line x1="501.5" y1="460.5" x2="501.5" y2="472"/>
</g>
<text x="100.6" y="21.2" font-size="24.8" text-anchor="start" font-weight="normal" stroke="#000" stroke-width="0.8">x=0.30</text>
<text x="263.7" y="25.6" font-size="24.8" text-anchor="start" font-weight="normal" stroke="#000" stroke-width="0.8">x=0.31</text>
<text x="433.1" y="23.8" font-size="24.8" text-anchor="start" font-weight="normal" stroke="#000" stroke-width="0.8">x=0.35</text>
<text x="172.9" y="76.4" font-size="16.5" text-anchor="end" font-weight="normal" stroke="#000" stroke-width="0.9">700</text>
<text x="170.4" y="106" font-size="16.5" text-anchor="end" font-weight="normal" stroke="#000" stroke-width="0.9">680</text>
<text x="171.10000000000002" y="143.8" font-size="16.5" text-anchor="end" font-weight="normal" stroke="#000" stroke-width="0.9">660</text>
<text x="171.10000000000002" y="178.3" font-size="16.5" text-anchor="end" font-weight="normal" stroke="#000" stroke-width="0.9">640</text>
<text x="171.9" y="214.3" font-size="16.5" text-anchor="end" font-weight="normal" stroke="#000" stroke-width="0.9">620</text>
<text x="175.4" y="249.5" font-size="16.5" text-anchor="end" font-weight="normal" stroke="#000" stroke-width="0.9">600</text>
<text x="174.3" y="289.6" font-size="16.5" text-anchor="end" font-weight="normal" stroke="#000" stroke-width="0.9">580</text>
<text x="174.3" y="323.8" font-size="16.5" text-anchor="end" font-weight="normal" stroke="#000" stroke-width="0.9">560</text>
<text x="175.3" y="359.3" font-size="16.5" text-anchor="end" font-weight="normal" stroke="#000" stroke-width="0.9">500</text>
<text x="177.10000000000002" y="395.9" font-size="16.5" text-anchor="end" font-weight="normal" stroke="#000" stroke-width="0.9">450</text>
<text x="174.60000000000002" y="429.2" font-size="16.5" text-anchor="end" font-weight="normal" stroke="#000" stroke-width="0.9">30</text>
<text x="344.3" y="106.1" font-size="16.5" text-anchor="end" font-weight="normal" stroke="#000" stroke-width="0.9">700</text>
<text x="343.6" y="140.3" font-size="16.5" text-anchor="end" font-weight="normal" stroke="#000" stroke-width="0.9">660</text>
<text x="343.6" y="171.3" font-size="16.5" text-anchor="end" font-weight="normal" stroke="#000" stroke-width="0.9">630</text>
<text x="344.3" y="205.4" font-size="16.5" text-anchor="end" font-weight="normal" stroke="#000" stroke-width="0.9">610</text>
<text x="344.3" y="238.5" font-size="16.5" text-anchor="end" font-weight="normal" stroke="#000" stroke-width="0.9">590</text>
<text x="345.0" y="270.2" font-size="16.5" text-anchor="end" font-weight="normal" stroke="#000" stroke-width="0.9">570</text>
<text x="345.0" y="304.4" font-size="16.5" text-anchor="end" font-weight="normal" stroke="#000" stroke-width="0.9">550</text>
<text x="344.3" y="337.5" font-size="16.5" text-anchor="end" font-weight="normal" stroke="#000" stroke-width="0.9">530</text>
<text x="346.5" y="372" font-size="16.5" text-anchor="end" font-weight="normal" stroke="#000" stroke-width="0.9">510</text>
<text x="345.6" y="402.8" font-size="16.5" text-anchor="end" font-weight="normal" stroke="#000" stroke-width="0.9">450</text>
<text x="342.1" y="433" font-size="16.5" text-anchor="end" font-weight="normal" stroke="#000" stroke-width="0.9">30</text>
<text x="507.90000000000003" y="112.4" font-size="16.5" text-anchor="end" font-weight="normal" stroke="#000" stroke-width="0.9">700</text>
<text x="510.8" y="149.2" font-size="16.5" text-anchor="end" font-weight="normal" stroke="#000" stroke-width="0.9">630</text>
<text x="511.2" y="178.8" font-size="16.5" text-anchor="end" font-weight="normal" stroke="#000" stroke-width="0.9">600</text>
<text x="511.5" y="209.6" font-size="16.5" text-anchor="end" font-weight="normal" stroke="#000" stroke-width="0.9">570</text>
<text x="513.1999999999999" y="241.1" font-size="16.5" text-anchor="end" font-weight="normal" stroke="#000" stroke-width="0.9">550</text>
<text x="512.8" y="274.3" font-size="16.5" text-anchor="end" font-weight="normal" stroke="#000" stroke-width="0.9">530</text>
<text x="512.1" y="305.9" font-size="16.5" text-anchor="end" font-weight="normal" stroke="#000" stroke-width="0.9">510</text>
<text x="512.1" y="333.1" font-size="16.5" text-anchor="end" font-weight="normal" stroke="#000" stroke-width="0.9">490</text>
<text x="512.1" y="368.8" font-size="16.5" text-anchor="end" font-weight="normal" stroke="#000" stroke-width="0.9">470</text>
<text x="512.1" y="398.2" font-size="16.5" text-anchor="end" font-weight="normal" stroke="#000" stroke-width="0.9">450</text>
<text x="510.3" y="432" font-size="16.5" text-anchor="end" font-weight="normal" stroke="#000" stroke-width="0.9">30</text>
<text x="21.1" y="491.7" font-size="17" text-anchor="middle" font-weight="normal" stroke="#000" stroke-width="0.8">30</text>
<text x="94.4" y="491.7" font-size="17" text-anchor="middle" font-weight="normal" stroke="#000" stroke-width="0.8">32</text>
<text x="167.5" y="491.7" font-size="17" text-anchor="middle" font-weight="normal" stroke="#000" stroke-width="0.8">34</text>
<text x="190.9" y="491.7" font-size="17" text-anchor="middle" font-weight="normal" stroke="#000" stroke-width="0.8">30</text>
<text x="265.1" y="491.7" font-size="17" text-anchor="middle" font-weight="normal" stroke="#000" stroke-width="0.8">32</text>
<text x="338" y="491.7" font-size="17" text-anchor="middle" font-weight="normal" stroke="#000" stroke-width="0.8">34</text>
<text x="363.5" y="491.7" font-size="17" text-anchor="middle" font-weight="normal" stroke="#000" stroke-width="0.8">30</text>
<text x="433" y="491.7" font-size="17" text-anchor="middle" font-weight="normal" stroke="#000" stroke-width="0.8">32</text>
<text x="503" y="491.7" font-size="17" text-anchor="middle" font-weight="normal" stroke="#000" stroke-width="0.8">34</text>
<text x="277.4" y="512.5" font-size="16.5" text-anchor="middle" font-weight="bold" stroke="#000" stroke-width="0.35">2Theta (degree)</text>
<text transform="translate(12.4,241) rotate(-90)" font-size="17.7" font-weight="bold" text-anchor="middle" stroke="#000" stroke-width="0.35">Intensity (arb. units)</text>
<text transform="translate(42.8,471.3) rotate(-90)" font-size="14.2" font-weight="bold" stroke="#000" stroke-width="0.3">(101)</text>
<text transform="translate(141.2,473.2) rotate(-90)" font-size="14.2" font-weight="bold" stroke="#000" stroke-width="0.3">(110)</text>
<text transform="translate(219.3,468.6) rotate(-90)" font-size="14.2" font-weight="bold" stroke="#000" stroke-width="0.3">(101)</text>
<text transform="translate(316,470.2) rotate(-90)" font-size="14.2" font-weight="bold" stroke="#000" stroke-width="0.3">(110)</text>
<text transform="translate(388.6,468.6) rotate(-90)" font-size="14.2" font-weight="bold" stroke="#000" stroke-width="0.3">(101)</text>
<text transform="translate(471.2,469.8) rotate(-90)" font-size="14.2" font-weight="bold" stroke="#000" stroke-width="0.3">(110)</text>
<text transform="translate(82,243.5) rotate(-90)" font-size="9.5" font-weight="bold" stroke="#000" stroke-width="0.3">(101)</text>
<text transform="translate(97.8,252.2) rotate(-90)" font-size="9.5" font-weight="bold" stroke="#000" stroke-width="0.3">(110)</text>
<text transform="translate(250,284.5) rotate(-90)" font-size="9.5" font-weight="bold" stroke="#000" stroke-width="0.3">(101)</text>
<text transform="translate(265.6,293.4) rotate(-90)" font-size="9.5" font-weight="bold" stroke="#000" stroke-width="0.3">(110)</text>
<text transform="translate(414.1,227) rotate(-90)" font-size="9.5" font-weight="bold" stroke="#000" stroke-width="0.3">(101)</text>
<text transform="translate(434.7,234.5) rotate(-90)" font-size="9.5" font-weight="bold" stroke="#000" stroke-width="0.3">(110)</text>
<text x="78.5" y="281.8" font-size="12.8" text-anchor="start" font-weight="normal" stroke="#000" stroke-width="0.7">T2</text>
<text x="245.5" y="323" font-size="12.8" text-anchor="start" font-weight="normal" stroke="#000" stroke-width="0.7">T2</text>
<text x="412.59999999999997" y="261.4" font-size="12.8" text-anchor="start" font-weight="normal" stroke="#000" stroke-width="0.7">T2</text>
<text x="256.6" y="430.8" font-size="14.5" text-anchor="start" font-weight="normal" stroke="#000" stroke-width="0.5">R</text>
<text x="417.4" y="427.7" font-size="14" text-anchor="start" font-weight="normal" stroke="#000" stroke-width="0.5">R</text>
<g stroke="#000" stroke-width="3"><line x1="78.4" y1="254.9" x2="78.4" y2="270.9"/><line x1="94.8" y1="257.8" x2="94.8" y2="273.8"/><line x1="243.4" y1="296.6" x2="243.4" y2="312.2"/><line x1="262.1" y1="301.4" x2="262.1" y2="317"/><line x1="409.5" y1="231.6" x2="409.5" y2="247.9"/><line x1="430.9" y1="239.7" x2="430.9" y2="254.7"/></g>
<line x1="370.3" y1="184.6" x2="378.9" y2="198.1" stroke="#000" stroke-width="3.2"/><polygon points="385.6,208.6 374.1,198.9 381.7,194.0" fill="#000"/>
<line x1="370.9" y1="215.8" x2="378.9" y2="229.1" stroke="#000" stroke-width="3.2"/><polygon points="385.2,239.8 374.0,229.7 381.7,225.1" fill="#000"/>
</svg>
</body></html>
